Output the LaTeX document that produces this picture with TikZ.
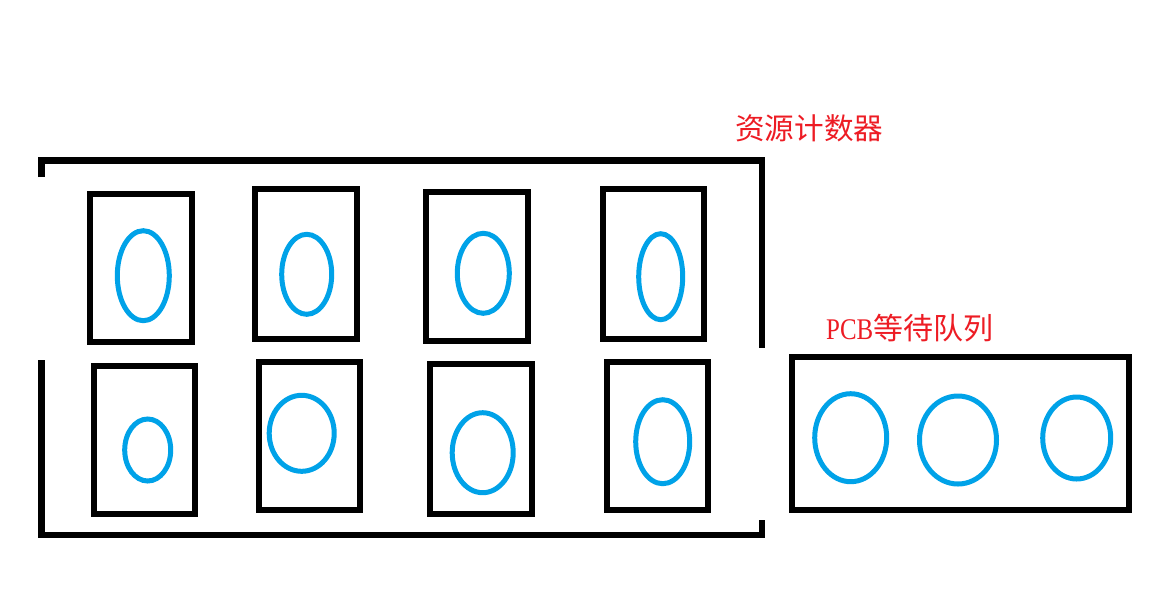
\documentclass[tikz,border=0pt]{standalone}
\usepackage{fontspec}
\newfontfamily\cjk{Noto Sans CJK SC}
\newfontfamily\latinserif{Liberation Serif}
\usetikzlibrary{shapes.geometric}
\definecolor{ringblue}{HTML}{00A2E8}
\definecolor{labelred}{HTML}{ED1C24}
\begin{document}
\begin{tikzpicture}[x=1pt,y=-1pt,
  slot/.style={draw=black, line width=6pt, rectangle, inner sep=0pt},
  ring/.style={draw=ringblue, line width=5pt, ellipse, inner sep=0pt},
  bracketline/.style={draw=black, line width=6.5pt, line join=miter},
  lbl/.style={text=labelred, inner sep=0pt, anchor=west}]
\useasboundingbox (0,0) rectangle (1166,590);
% slots, top row
\node[slot, minimum width=101.7pt, minimum height=148.3pt] (b1) at (141.2,267.9) {};
\node[slot, minimum width=101.7pt, minimum height=149.7pt] (b2) at (306.2,263.9) {};
\node[slot, minimum width=101.7pt, minimum height=148.7pt] (b3) at (477.2,266.7) {};
\node[slot, minimum width=100.7pt, minimum height=149.7pt] (b4) at (653.4,263.9) {};
% slots, bottom row
\node[slot, minimum width=101.3pt, minimum height=148.6pt] (b5) at (144.7,440) {};
\node[slot, minimum width=101.3pt, minimum height=148.3pt] (b6) at (309.7,436.2) {};
\node[slot, minimum width=101.7pt, minimum height=149.7pt] (b7) at (481.2,438.9) {};
\node[slot, minimum width=101pt, minimum height=148pt] (b8) at (657.5,436) {};
% PCB queue box
\node[slot, minimum width=337pt, minimum height=153pt] (pcb) at (960.5,433.5) {};
% rings
\node[ring, minimum width=52pt, minimum height=90pt] (e1) at (143.3,275.7) {};
\node[ring, minimum width=50pt, minimum height=80pt] (e2) at (306.7,274.3) {};
\node[ring, minimum width=52pt, minimum height=80pt] (e3) at (483.3,273.3) {};
\node[ring, minimum width=44pt, minimum height=86pt] (e4) at (660.7,276.7) {};
\node[ring, minimum width=46pt, minimum height=62pt] (e5) at (147.7,450) {};
\node[ring, minimum width=65pt, minimum height=76pt] (e6) at (301.7,433.3) {};
\node[ring, minimum width=61pt, minimum height=80pt] (e7) at (482.7,452.7) {};
\node[ring, minimum width=54pt, minimum height=84pt] (e8) at (662.7,441.7) {};
\node[ring, minimum width=72pt, minimum height=88pt] (p1) at (850.7,437.7) {};
\node[ring, minimum width=77pt, minimum height=88pt] (p2) at (958,440) {};
\node[ring, minimum width=68pt, minimum height=82pt] (p3) at (1076.7,438) {};
% bracket of the resource counter
\coordinate (tlTail) at (41.5,177);
\coordinate (tl) at (41.5,160.7);
\coordinate (tr) at (762,160.7);
\coordinate (trEnd) at (762,348);
\coordinate (blStart) at (41.5,360);
\coordinate (bl) at (41.5,535);
\coordinate (br) at (762,535);
\coordinate (brTail) at (762,520);
\draw[bracketline] (tlTail) -- (tl) -- (tr) -- (trEnd);
\draw[bracketline] (blStart) -- (bl) -- (br) -- (brTail);
% labels
\node[lbl, font=\cjk\fontsize{29.6}{31}\selectfont] (counter) at (735,128) {资源计数器};
\node[lbl, font=\fontsize{30}{32}\selectfont] (queue) at (826,328)
  {\latinserif\scalebox{0.83}[1]{PCB}\cjk 等待队列};
\end{tikzpicture}
\end{document}
